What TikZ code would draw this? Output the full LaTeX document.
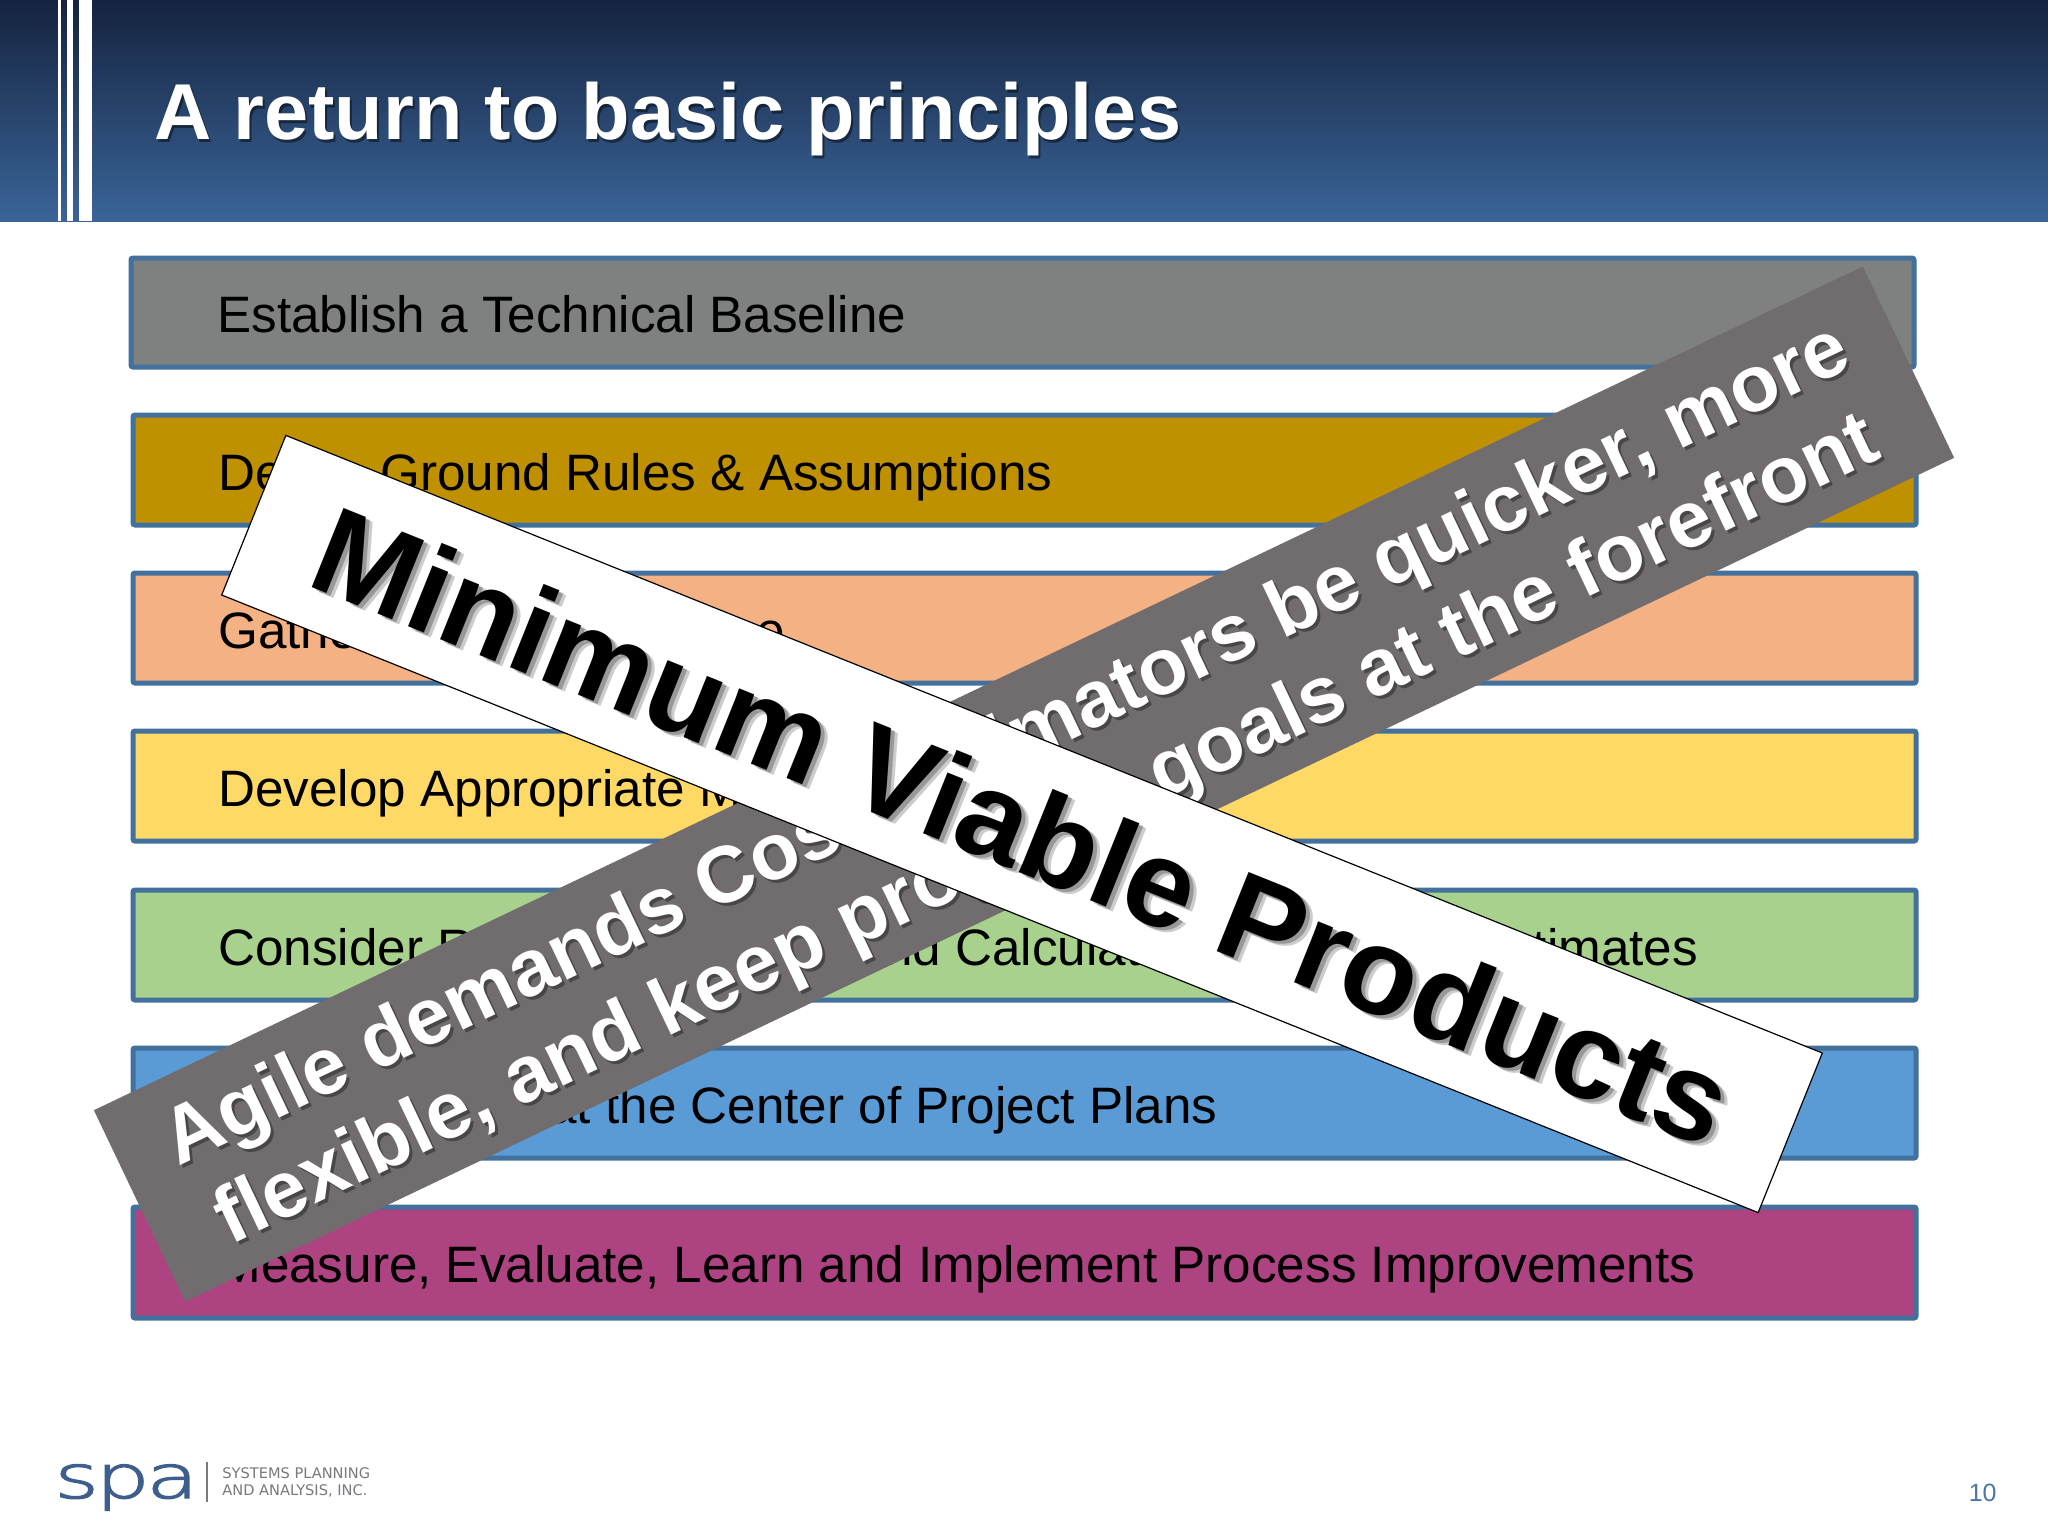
\documentclass[tikz,border=0pt]{standalone}
\usepackage{fontspec}
\setmainfont{Liberation Sans}
\newfontfamily\logofont{DejaVu Sans}
\newfontfamily\spafont[FakeBold=2,LetterSpace=-4]{DejaVu Sans ExtraLight}
\definecolor{edgeblue}{HTML}{41719C}
\definecolor{headtop}{HTML}{15233F}
\definecolor{headbot}{HTML}{3A6498}
\definecolor{bannergray}{HTML}{716D6E}
\definecolor{logoblue}{HTML}{3E5F8E}
\definecolor{logogray}{HTML}{77797F}
\definecolor{pagenum}{HTML}{4A76A8}
\definecolor{barGray}{HTML}{7F8080}
\definecolor{barGold}{HTML}{BF9000}
\definecolor{barSalmon}{HTML}{F4B183}
\definecolor{barYellow}{HTML}{FFD966}
\definecolor{barGreen}{HTML}{A9D18E}
\definecolor{barBlue}{HTML}{5B9BD5}
\definecolor{barPurple}{HTML}{AE4382}
\tikzset{
	barbox/.style={draw=edgeblue,line width=2.5pt,rounded corners=1pt},
	bartext/.style={anchor=base west,inner sep=0pt,font=\fontsize{25.6}{26}\selectfont,text=black},
	titletext/.style={anchor=base west,inner sep=0pt,font=\fontsize{39.65}{40}\bfseries\selectfont},
	graytext/.style={align=center,font=\fontsize{39.9}{47}\bfseries\selectfont,rotate=25.5,inner sep=0pt},
	whitetext/.style={font=\fontsize{62}{62}\bfseries\selectfont,rotate=-21.9,inner sep=0pt},
	logotext/.style={anchor=base west,inner sep=0pt,text=logogray,font=\logofont\fontsize{7.3}{7.3}\selectfont}
}
\begin{document}
\begin{tikzpicture}[x=0.5pt,y=-0.5pt]
	\useasboundingbox (0,0) rectangle (2048,1536);
	\fill[white] (0,0) rectangle (2048,1536);
	% title band
	\shade[top color=headtop,bottom color=headbot] (0,0) rectangle (2048,221);
	\fill[white] (58,0) rectangle (61,221);
	\fill[white] (67,0) rectangle (73,221);
	\fill[white] (79,0) rectangle (92,221);
	\node[titletext,text=black,opacity=.45] (titleback) at (156,142) {A return to basic principles};
	\node[titletext,text=white] (title) at (154,140) {A return to basic principles};
	% bars
	\draw[barbox,fill=barGray] (131,258) rectangle (1914,367);
	\draw[barbox,fill=barGold] (133,415) rectangle (1916,525);
	\draw[barbox,fill=barSalmon] (133,573) rectangle (1916,683);
	\draw[barbox,fill=barYellow] (133,731) rectangle (1916,841);
	\draw[barbox,fill=barGreen] (133,890) rectangle (1916,1000);
	\draw[barbox,fill=barBlue] (133,1048) rectangle (1916,1158);
	\draw[barbox,fill=barPurple] (133,1207) rectangle (1916,1318);
	\node[bartext] (baseline) at (217,332) {Establish a Technical Baseline};
	\node[bartext] (rules) at (218,490) {Define Ground Rules \& Assumptions};
	\node[bartext] (data) at (218,648) {Gather Current Evidence};
	\node[bartext] (models) at (218,806) {Develop Appropriate Models};
	\node[bartext] (risk) at (218,965) {Consider Risk and Reserve and Calculate Probabilistic Estimates};
	\node[bartext] (plans) at (218,1123) {Put Estimates at the Center of Project Plans};
	\node[bartext] (improve) at (218,1282) {Measure, Evaluate, Learn and Implement Process Improvements};
	% gray banner
	\node[fill=bannergray,rotate=25.5,minimum width=980pt,minimum height=106pt,inner sep=0pt] (grayband) at (1024,784) {};
	\node[graytext,text=black,opacity=.35] (agileback) at (1031,793) {Agile demands Cost Estimators be quicker, more\\flexible, and keep program goals at the forefront};
	\node[graytext,text=white] (agile) at (1028,790) {Agile demands Cost Estimators be quicker, more\\flexible, and keep program goals at the forefront};
	% white banner
	\node[draw=black,line width=.6pt,fill=white,rotate=-21.9,minimum width=828pt,minimum height=86pt,inner sep=0pt] (whiteband) at (1022,824) {};
	\node[whitetext,text=black,opacity=.2] (viableback) at (1030,831) {Minimum Viable Products};
	\node[whitetext,text=black,opacity=.25] (viablemid) at (1027,829) {Minimum Viable Products};
	\node[whitetext,text=black] (viable) at (1023,826) {Minimum Viable Products};
	% footer
	\node[anchor=base west,inner sep=0pt,text=logoblue,font=\spafont\fontsize{30}{30}\selectfont,xscale=1.42] (spa) at (54,1498) {spa};
	\draw[logogray,line width=.6pt] (207,1462) -- (207,1502);
	\node[logotext] (sys) at (222,1478) {SYSTEMS PLANNING};
	\node[logotext] (and) at (222,1495) {AND ANALYSIS, INC.};
	\node[anchor=base east,inner sep=0pt,text=pagenum,font=\fontsize{12.5}{12.5}\selectfont] (pagenr) at (1997,1501) {10};
\end{tikzpicture}
\end{document}
